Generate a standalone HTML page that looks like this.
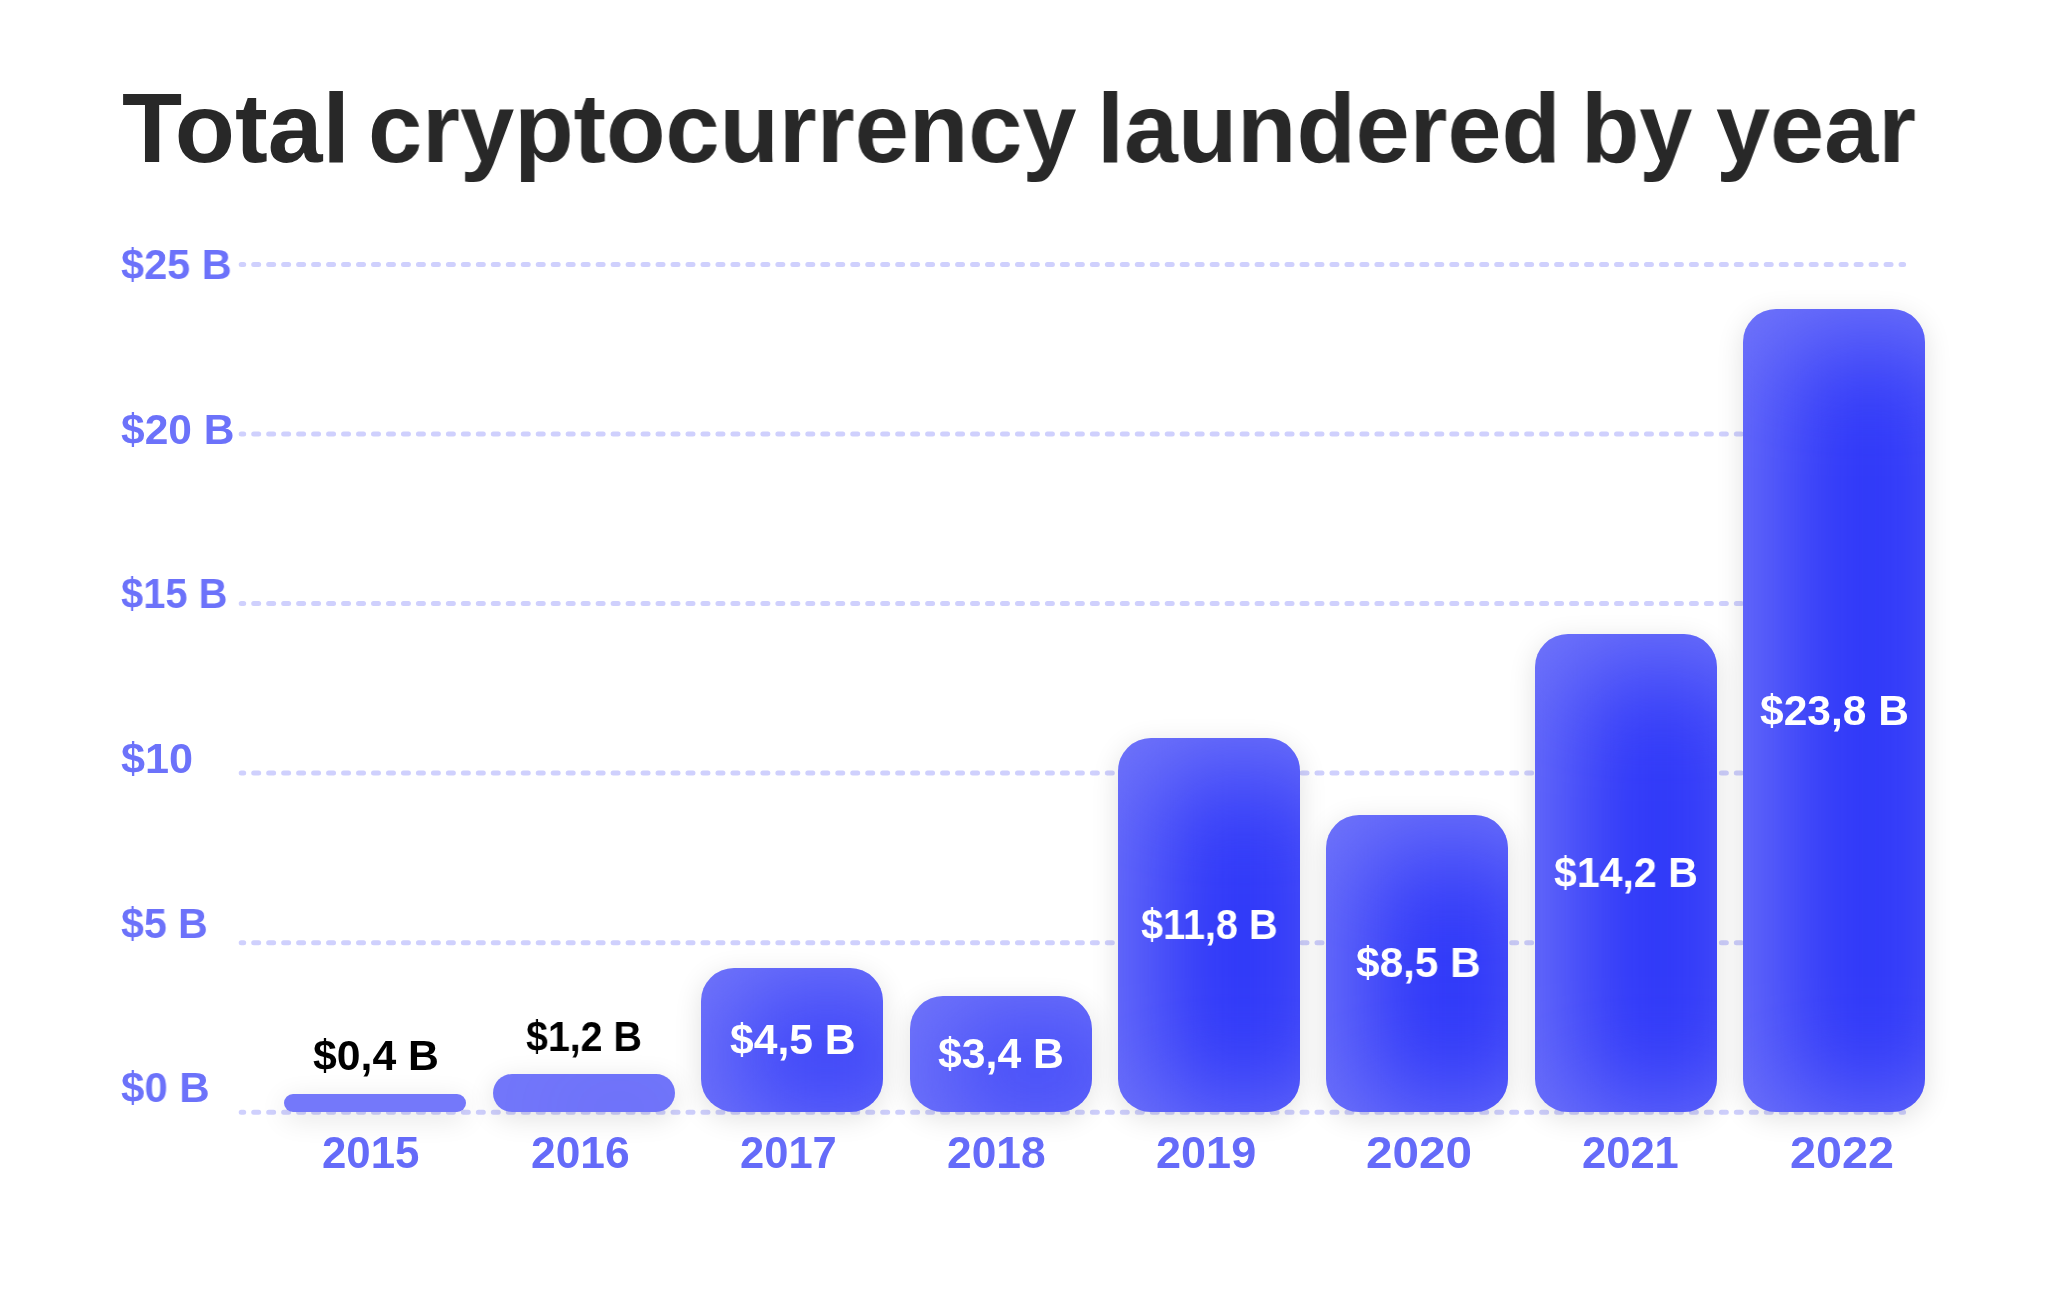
<!DOCTYPE html>
<html lang="en">
<head>
<meta charset="utf-8">
<title>Total cryptocurrency laundered by year</title>
<style>
html,body{margin:0;padding:0;background:#fff}
body{width:2048px;height:1297px;position:relative;overflow:hidden;font-family:"Liberation Sans", sans-serif;font-weight:700}
h1{margin:0;padding:0;font:inherit}
.t{display:block;position:absolute;white-space:nowrap;line-height:1;margin:0;padding:0;will-change:transform;transform-origin:0 0}
.t.title{font-size:98px;color:#282828}
.ax{font-size:42.5px;color:#6C72FA}
.yr{font-size:43.5px;color:#656BF9}
.vb{font-size:42.5px;color:#000}
.vw{font-size:42.5px;color:#fff}
svg.grid{position:absolute;left:0;top:0}
.bar{position:absolute;width:182px;border-radius:33px;background:#7478FA;box-shadow:0 6px 28px rgba(0,0,0,.12)}
.bar i{position:absolute;left:0;top:0;right:0;bottom:0;border-radius:inherit;overflow:hidden;display:block}
.bar i b{position:absolute;display:block;left:31px;top:30px;right:-39px;bottom:-2px;background:#2C35F8;filter:blur(58px)}

</style>
</head>
<body>
<svg class="grid" width="2048" height="1297" viewBox="0 0 2048 1297"><g stroke="#CFD0FD" stroke-width="5" stroke-linecap="round" stroke-dasharray="4.976 10" fill="none">
<path d="M241.2 264.4H1903.6" stroke-dashoffset="2.476"/>
<path d="M241.2 434.0H1903.6" stroke-dashoffset="2.476"/>
<path d="M241.2 603.6H1903.6" stroke-dashoffset="2.476"/>
<path d="M241.2 773.1H1903.6" stroke-dashoffset="2.476"/>
<path d="M241.2 942.7H1903.6" stroke-dashoffset="2.476"/>
<path d="M241.2 1112.3H1903.6" stroke-dashoffset="2.476"/>
</g></svg>
<div class="bars">
<div class="bar" style="left:284.0px;top:1093.9px;height:18.4px;border-radius:9.2px"><i><b></b></i></div>
<div class="bar" style="left:492.6px;top:1074.0px;height:38.3px;border-radius:19.1px"><i><b></b></i></div>
<div class="bar" style="left:701.0px;top:967.5px;height:144.8px;border-radius:33.0px"><i><b></b></i></div>
<div class="bar" style="left:909.5px;top:995.9px;height:116.4px;border-radius:33.0px"><i><b></b></i></div>
<div class="bar" style="left:1117.9px;top:737.8px;height:374.5px;border-radius:33.0px"><i><b></b></i></div>
<div class="bar" style="left:1326.2px;top:814.5px;height:297.8px;border-radius:33.0px"><i><b></b></i></div>
<div class="bar" style="left:1534.8px;top:633.7px;height:478.6px;border-radius:33.0px"><i><b></b></i></div>
<div class="bar" style="left:1743.1px;top:309.2px;height:803.1px;border-radius:33.0px"><i><b></b></i></div>
</div>
<h1 class="title">
<span class="t title" id="t1" style="left:122.00px;top:79.49px;transform:scaleX(1.0050)">Total</span>
<span class="t title" id="t2" style="left:368.00px;top:79.49px;transform:scaleX(0.9929)">cryptocurrency</span>
<span class="t title" id="t3" style="left:1097.00px;top:79.49px;transform:scaleX(0.9901)">laundered</span>
<span class="t title" id="t4" style="left:1581.20px;top:79.49px;transform:scaleX(0.9746)">by</span>
<span class="t title" id="t5" style="left:1715.80px;top:79.49px;transform:scaleX(0.9920)">year</span>
</h1>
<div class="yaxis">
<div class="t ax" id="y25" style="left:121.40px;top:244.09px;transform:scaleX(0.9755)">$25 B</div>
<div class="t ax" id="y20" style="left:121.40px;top:408.79px;transform:scaleX(0.9964)">$20 B</div>
<div class="t ax" id="y15" style="left:121.40px;top:572.59px;transform:scaleX(0.9382)">$15 B</div>
<div class="t ax" id="y10" style="left:121.40px;top:738.39px;transform:scaleX(1.0163)">$10</div>
<div class="t ax" id="y5" style="left:121.40px;top:902.79px;transform:scaleX(0.9667)">$5 B</div>
<div class="t ax" id="y0" style="left:121.40px;top:1067.09px;transform:scaleX(0.9874)">$0 B</div>
</div>
<div class="xaxis">
<div class="t yr" id="x15" style="left:321.80px;top:1132.24px;transform:scaleX(1.0065)">2015</div>
<div class="t yr" id="x16" style="left:530.80px;top:1132.24px;transform:scaleX(1.0183)">2016</div>
<div class="t yr" id="x17" style="left:739.80px;top:1132.24px;transform:scaleX(0.9957)">2017</div>
<div class="t yr" id="x18" style="left:946.80px;top:1132.24px;transform:scaleX(1.0183)">2018</div>
<div class="t yr" id="x19" style="left:1156.40px;top:1132.24px;transform:scaleX(1.0355)">2019</div>
<div class="t yr" id="x20" style="left:1366.20px;top:1132.24px;transform:scaleX(1.0957)">2020</div>
<div class="t yr" id="x21" style="left:1581.60px;top:1132.24px;transform:scaleX(1.0000)">2021</div>
<div class="t yr" id="x22" style="left:1790.40px;top:1132.24px;transform:scaleX(1.0731)">2022</div>
</div>
<div class="values">
<div class="t vb" id="v15" style="left:313.00px;top:1035.29px;transform:scaleX(1.0057)">$0,4 B</div>
<div class="t vb" id="v16" style="left:526.20px;top:1015.69px;transform:scaleX(0.9254)">$1,2 B</div>
<div class="t vw" id="v17" style="left:730.20px;top:1018.99px;transform:scaleX(1.0033)">$4,5 B</div>
<div class="t vw" id="v18" style="left:938.00px;top:1033.09px;transform:scaleX(1.0057)">$3,4 B</div>
<div class="t vw" id="v19" style="left:1141.00px;top:903.89px;transform:scaleX(0.9329)">$11,8 B</div>
<div class="t vw" id="v20" style="left:1355.60px;top:942.39px;transform:scaleX(0.9959)">$8,5 B</div>
<div class="t vw" id="v21" style="left:1554.00px;top:852.29px;transform:scaleX(0.9651)">$14,2 B</div>
<div class="t vw" id="v22" style="left:1760.40px;top:690.29px;transform:scaleX(0.9993)">$23,8 B</div>
</div>
</body>
</html>
